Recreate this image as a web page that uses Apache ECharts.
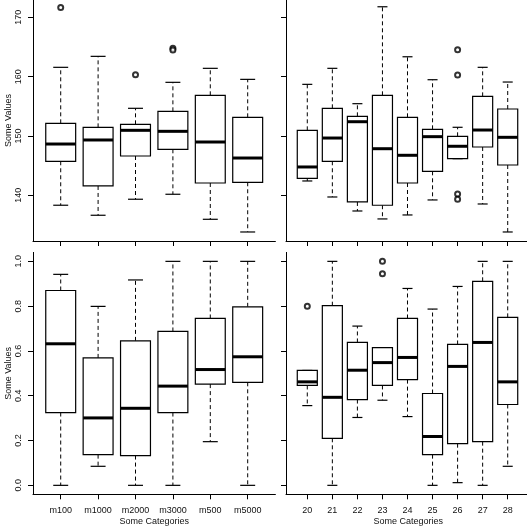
<!DOCTYPE html>
<html>
<head>
<meta charset="utf-8">
<script src="https://cdn.jsdelivr.net/npm/echarts@6/dist/echarts.min.js"></script>
<style>
html,body{margin:0;padding:0;background:#fff;}
#chart{width:527px;height:527px;}
</style>
</head>
<body>
<div id="chart"></div>
<script>
// ---- data ----
const catsLeft = ['m100', 'm1000', 'm2000', 'm3000', 'm500', 'm5000'];
const catsRight = ['20', '21', '22', '23', '24', '25', '26', '27', '28'];

// each box: [lowerWhisker, Q1, median, Q3, upperWhisker]
const boxesTopLeft = [
  [138.32, 145.73, 148.64, 152.13, 161.57],
  [136.63, 141.57, 149.32, 151.45, 163.42],
  [139.33, 146.62, 150.95, 151.96, 154.66],
  [140.17, 147.75, 150.78, 154.15, 159.04],
  [135.95, 142.07, 148.98, 156.85, 161.40],
  [133.81, 142.19, 146.28, 153.14, 159.54]
];
const outliersTopLeft = [[0, 171.67], [2, 160.33], [3, 164.77], [3, 164.50]];

const boxesTopRight = [
  [142.41, 142.86, 144.77, 150.95, 158.70],
  [139.71, 145.73, 149.65, 154.66, 161.40],
  [137.35, 138.87, 152.40, 153.31, 155.44],
  [136.01, 138.32, 147.85, 156.85, 171.78],
  [136.68, 142.07, 146.74, 153.14, 163.35],
  [139.21, 144.04, 149.88, 151.12, 159.48],
  [146.17, 146.17, 148.26, 149.94, 151.46],
  [138.53, 148.14, 151.00, 156.68, 161.57],
  [133.81, 145.10, 149.77, 154.54, 159.09]
];
const outliersTopRight = [[6, 164.53], [6, 160.27], [6, 140.22], [6, 139.33]];

const boxesBottomLeft = [
  [0.000, 0.325, 0.632, 0.870, 0.942],
  [0.085, 0.137, 0.301, 0.569, 0.799],
  [0.000, 0.133, 0.344, 0.645, 0.917],
  [0.000, 0.325, 0.443, 0.687, 1.000],
  [0.195, 0.452, 0.517, 0.745, 1.000],
  [0.000, 0.460, 0.574, 0.797, 1.000]
];
const outliersBottomLeft = [];

const boxesBottomRight = [
  [0.356, 0.446, 0.462, 0.513, 0.513],
  [0.000, 0.210, 0.393, 0.802, 1.000],
  [0.303, 0.383, 0.514, 0.638, 0.711],
  [0.380, 0.446, 0.548, 0.615, 0.615],
  [0.307, 0.472, 0.571, 0.745, 0.879],
  [0.000, 0.137, 0.218, 0.410, 0.787],
  [0.012, 0.186, 0.531, 0.629, 0.888],
  [0.000, 0.195, 0.638, 0.911, 1.000],
  [0.085, 0.361, 0.462, 0.750, 1.000]
];
const outliersBottomRight = [[0, 0.800], [3, 1.000], [3, 0.945]];

const ticksTop = [140, 150, 160, 170];
const ticksBottom = [0, 0.2, 0.4, 0.6, 0.8, 1.0];

const xName = 'Some Categories';
const yName = 'Some Values';

// ---- chart ----
const FONT = 'Liberation Sans, Arial, sans-serif';
const FS = 9;
const TXT = '#111';

function boxRender(params, api) {
  const x = api.value(0);
  const lo = api.value(1), q1 = api.value(2), med = api.value(3), q3 = api.value(4), hi = api.value(5);
  const hw = 0.4, cw = 0.2;
  const c = (a, b) => api.coord([a, b]);
  const pLo = c(x, lo), pQ1 = c(x, q1), pQ3 = c(x, q3), pHi = c(x, hi);
  const bl = c(x - hw, q1), tr = c(x + hw, q3);
  const mL = c(x - hw, med), mR = c(x + hw, med);
  const capLoL = c(x - cw, lo), capLoR = c(x + cw, lo);
  const capHiL = c(x - cw, hi), capHiR = c(x + cw, hi);
  const dash = {stroke: '#000', lineWidth: 1, lineDash: [4, 3], fill: null};
  const solid = {stroke: '#000', lineWidth: 1.2, fill: null};
  return {
    type: 'group',
    children: [
      {type: 'line', shape: {x1: pQ3[0], y1: pQ3[1], x2: pHi[0], y2: pHi[1]}, style: dash},
      {type: 'line', shape: {x1: pQ1[0], y1: pQ1[1], x2: pLo[0], y2: pLo[1]}, style: dash},
      {type: 'line', shape: {x1: capHiL[0], y1: capHiL[1], x2: capHiR[0], y2: capHiR[1]}, style: solid},
      {type: 'line', shape: {x1: capLoL[0], y1: capLoL[1], x2: capLoR[0], y2: capLoR[1]}, style: solid},
      {type: 'rect', shape: {x: bl[0], y: tr[1], width: tr[0] - bl[0], height: bl[1] - tr[1]},
        style: {fill: '#fff', stroke: '#000', lineWidth: 1.2}},
      {type: 'line', shape: {x1: mL[0], y1: mL[1], x2: mR[0], y2: mR[1]}, style: {stroke: '#000', lineWidth: 3}}
    ]
  };
}

const panels = [
  {grid: {left: 33, top: 0, width: 242.4, height: 241}, cats: catsLeft, xmin: -0.741, xmax: 5.741,
   ymin: 132.29, ymax: 172.92, yticks: ticksTop, showX: false, showY: true, boxes: boxesTopLeft, outl: outliersTopLeft, fmt: v => String(v)},
  {grid: {left: 286, top: 0, width: 244.6, height: 241}, cats: catsRight, xmin: -0.850, xmax: 8.914,
   ymin: 132.29, ymax: 172.92, yticks: ticksTop, showX: false, showY: false, boxes: boxesTopRight, outl: outliersTopRight, fmt: v => String(v)},
  {grid: {left: 33, top: 252.4, width: 242.4, height: 241.9}, cats: catsLeft, xmin: -0.741, xmax: 5.741,
   ymin: -0.04, ymax: 1.04, yticks: ticksBottom, showX: true, showY: true, boxes: boxesBottomLeft, outl: outliersBottomLeft, fmt: v => Number(v).toFixed(1)},
  {grid: {left: 286, top: 252.4, width: 244.6, height: 241.9}, cats: catsRight, xmin: -0.850, xmax: 8.914,
   ymin: -0.04, ymax: 1.04, yticks: ticksBottom, showX: true, showY: false, boxes: boxesBottomRight, outl: outliersBottomRight, fmt: v => Number(v).toFixed(1)}
];

const option = {
  animation: false,
  backgroundColor: '#fff',
  textStyle: {fontFamily: FONT},
  grid: [], xAxis: [], yAxis: [], series: []
};

const lineStyle = {color: '#000', width: 1};

panels.forEach((p, i) => {
  option.grid.push(Object.assign({outerBoundsMode: 'none', containLabel: false}, p.grid));
  const idx = p.cats.map((_, k) => k);
  option.xAxis.push({
    type: 'value', gridIndex: i, min: p.xmin, max: p.xmax,
    splitLine: {show: false},
    axisLine: {show: true, onZero: false, lineStyle},
    axisTick: {show: true, length: 5, lineStyle, customValues: idx},
    axisLabel: {show: p.showX, customValues: idx, formatter: v => p.cats[Math.round(v)],
      fontSize: FS, color: TXT, fontFamily: FONT, margin: 12},
    name: p.showX ? xName : '', nameLocation: 'middle', nameGap: 23,
    nameTextStyle: {fontSize: FS, color: TXT, fontFamily: FONT}
  });
  option.yAxis.push({
    type: 'value', gridIndex: i, min: p.ymin, max: p.ymax,
    splitLine: {show: false},
    axisLine: {show: true, onZero: false, lineStyle},
    axisTick: {show: true, length: 5, lineStyle, customValues: p.yticks},
    axisLabel: {show: p.showY, customValues: p.yticks, formatter: p.fmt, rotate: 90,
      fontSize: FS, color: TXT, fontFamily: FONT, margin: 10},
    name: p.showY ? yName : '', nameLocation: 'middle', nameGap: 19, nameRotate: 90,
    nameTextStyle: {fontSize: FS, color: TXT, fontFamily: FONT}
  });
  option.series.push({
    type: 'custom', xAxisIndex: i, yAxisIndex: i,
    renderItem: boxRender,
    encode: {x: 0, y: [1, 2, 3, 4, 5]},
    data: p.boxes.map((b, k) => [k].concat(b)),
    clip: false
  });
  option.series.push({
    type: 'scatter', xAxisIndex: i, yAxisIndex: i,
    symbol: 'emptyCircle', symbolSize: 5,
    itemStyle: {color: '#000', borderColor: '#000', borderWidth: 0.8},
    data: p.outl
  });
});

const chart = echarts.init(document.getElementById('chart'), null, {renderer: 'canvas'});
chart.setOption(option);
</script>
</body>
</html>
